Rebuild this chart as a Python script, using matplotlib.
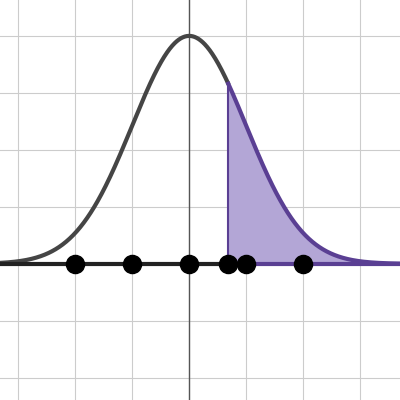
import numpy as np
import matplotlib.pyplot as plt

# curve parameters and points
amplitude = 4.0
sigma = 1.0
shade_start = 0.68
point_x = [-2, -1, 0, 0.68, 1, 2]

x_min, x_max = -3.32, 3.70
y_min, y_max = -2.39, 4.63

fig = plt.figure(figsize=(4, 4), dpi=100)
ax = fig.add_axes([0, 0, 1, 1])
ax.set_xlim(x_min, x_max)
ax.set_ylim(y_min, y_max)

for gx in range(-3, 4):
    ax.axvline(gx, color='#cccccc', lw=0.8, zorder=0)
for gy in range(-2, 5):
    ax.axhline(gy, color='#cccccc', lw=0.8, zorder=0)
ax.axvline(0, color='#555555', lw=1.0, zorder=1)
ax.axhline(0, color='#555555', lw=1.0, zorder=1)

xs = np.linspace(x_min, x_max, 800)
ys = amplitude * np.exp(-xs**2 / (2 * sigma**2))
left = xs <= shade_start
ax.plot(xs[left], ys[left], color='#454545', lw=3, zorder=3)
ax.plot(xs[~left], ys[~left], color='#5a3f93', lw=3, zorder=3)
ax.fill_between(xs[~left], 0, ys[~left], color='#b3a6d6', zorder=2)
ax.plot([shade_start, shade_start], [0, amplitude * np.exp(-shade_start**2 / 2)],
        color='#5a3f93', lw=1.5, zorder=3)
ax.plot([x_min, shade_start], [0, 0], color='#222222', lw=3, zorder=3)
ax.plot([shade_start, x_max], [0, 0], color='#5a3f93', lw=3, zorder=3)

ax.scatter(point_x, [0] * len(point_x), s=170, color='black', zorder=4)

ax.axis('off')
fig.savefig('out.png')
